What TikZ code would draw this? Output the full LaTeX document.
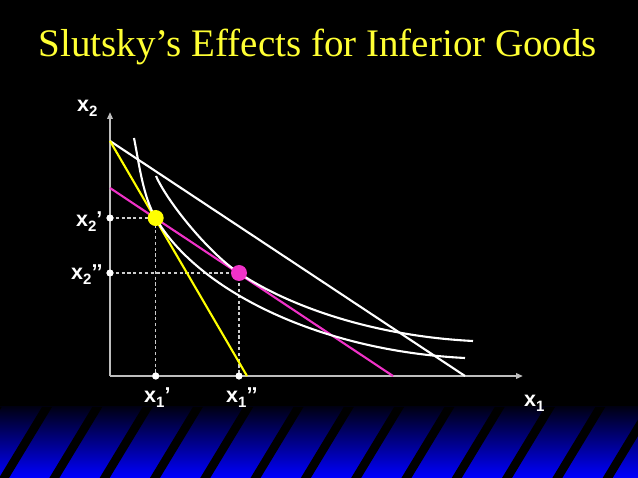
\documentclass[tikz,border=0pt]{standalone}
\usepackage{fontspec}
\setmainfont{Liberation Serif}
\newfontfamily\lab{Liberation Sans}
\usetikzlibrary{arrows.meta}
\definecolor{ttl}{RGB}{255,255,51}
\definecolor{ylw}{RGB}{255,255,0}
\definecolor{mgt}{RGB}{240,50,200}
\definecolor{axc}{RGB}{190,190,190}
\definecolor{dsh}{RGB}{205,205,205}
\definecolor{bandtop}{RGB}{0,0,20}
\definecolor{bandmid}{RGB}{0,0,185}
\definecolor{bandbot}{RGB}{0,0,255}
\newcommand{\sbx}[1]{\raisebox{-5pt}{\fontsize{15}{15}\selectfont #1}}
\begin{document}
\begin{tikzpicture}[x=1pt,y=-1pt,
  lbl/.style={inner sep=0pt, anchor=base west, text=white, font=\lab\bfseries\fontsize{21.5}{24}\selectfont},
  axisline/.style={draw=axc, line width=1.8pt, -{Triangle[length=7pt,width=5.5pt]}},
  budget/.style={line width=2.1pt},
  icurve/.style={draw=white, line width=2.1pt},
  guide/.style={draw=dsh, line width=1.4pt, dash pattern=on 3.2pt off 2.6pt},
  bigdot/.style={circle, inner sep=0pt, minimum size=15.5pt},
  smalldot/.style={circle, fill=white, inner sep=0pt, minimum size=7pt}]
\fill[black] (0,0) rectangle (638,478);
\useasboundingbox (0,0) rectangle (638,478);
% bottom band
\begin{scope}
  \clip (0,407) rectangle (638,478);
  \shade[top color=bandtop, middle color=bandmid, bottom color=bandbot] (0,407) rectangle (638,478);
  \foreach \k in {-1,...,13} {
    \fill[black] ({50.3*\k-1},478) -- ++(10,0) -- ++(43,-71) -- ++(-10,0) -- cycle;
  }
\end{scope}
% title
\node[text=ttl, font=\fontsize{39}{44}\selectfont, anchor=base, inner sep=0pt] (title) at (318,57) {Slutsky’s Effects for Inferior Goods};
% coordinates
\coordinate (O) at (110,376);
\coordinate (xtip) at (523,376);
\coordinate (ytip) at (110,112);
\coordinate (A) at (110,141);
\coordinate (Bw) at (465,376);
\coordinate (By) at (247,376);
\coordinate (Cm) at (110,188);
\coordinate (Dm) at (393,376);
% guides
\node[bigdot] (P1) at (155.7,218) {};
\node[bigdot] (P2) at (239,273) {};
\node[smalldot] (y1) at (110,218) {};
\node[smalldot] (y2) at (110,273) {};
\node[smalldot] (x1) at (155.7,376) {};
\node[smalldot] (x2) at (239,376) {};
\draw[guide] (y1.center) -- (P1.center) -- (x1.center);
\draw[guide] (y2.center) -- (P2.center) -- (x2.center);
% axes
\draw[axisline] (O) -- (xtip);
\draw[axisline] (O) -- (ytip);
% budget lines
\draw[budget, draw=white] (A) -- (Bw);
\draw[budget, draw=ylw] (A) -- (By);
\draw[budget, draw=mgt] (Cm) -- (Dm);
% indifference curves
\draw[icurve] (134,138) .. controls (139,163) and (143,197) .. (155.7,218)
  .. controls (195.7,288) and (315,350.5) .. (465,358);
\draw[icurve] (156,176) .. controls (168,203) and (209,253) .. (239,273)
  .. controls (289,306.3) and (373,336) .. (473,341);
% points
\fill[ylw] (P1) circle (8pt);
\fill[mgt] (P2) circle (8pt);
\node[smalldot] at (y1) {};
\node[smalldot] at (y2) {};
\node[smalldot] at (x1) {};
\node[smalldot] at (x2) {};
% labels
\node[lbl] (lx2) at (77,112) {x\sbx{2}};
\node[lbl] (lx2a) at (76,227) {x\sbx{2}’};
\node[lbl] (lx2b) at (71,280) {x\sbx{2}’’};
\node[lbl] (lx1a) at (144,403) {x\sbx{1}’};
\node[lbl] (lx1b) at (226,403) {x\sbx{1}’’};
\node[lbl] (lx1) at (524,407) {x\sbx{1}};
\end{tikzpicture}
\end{document}
